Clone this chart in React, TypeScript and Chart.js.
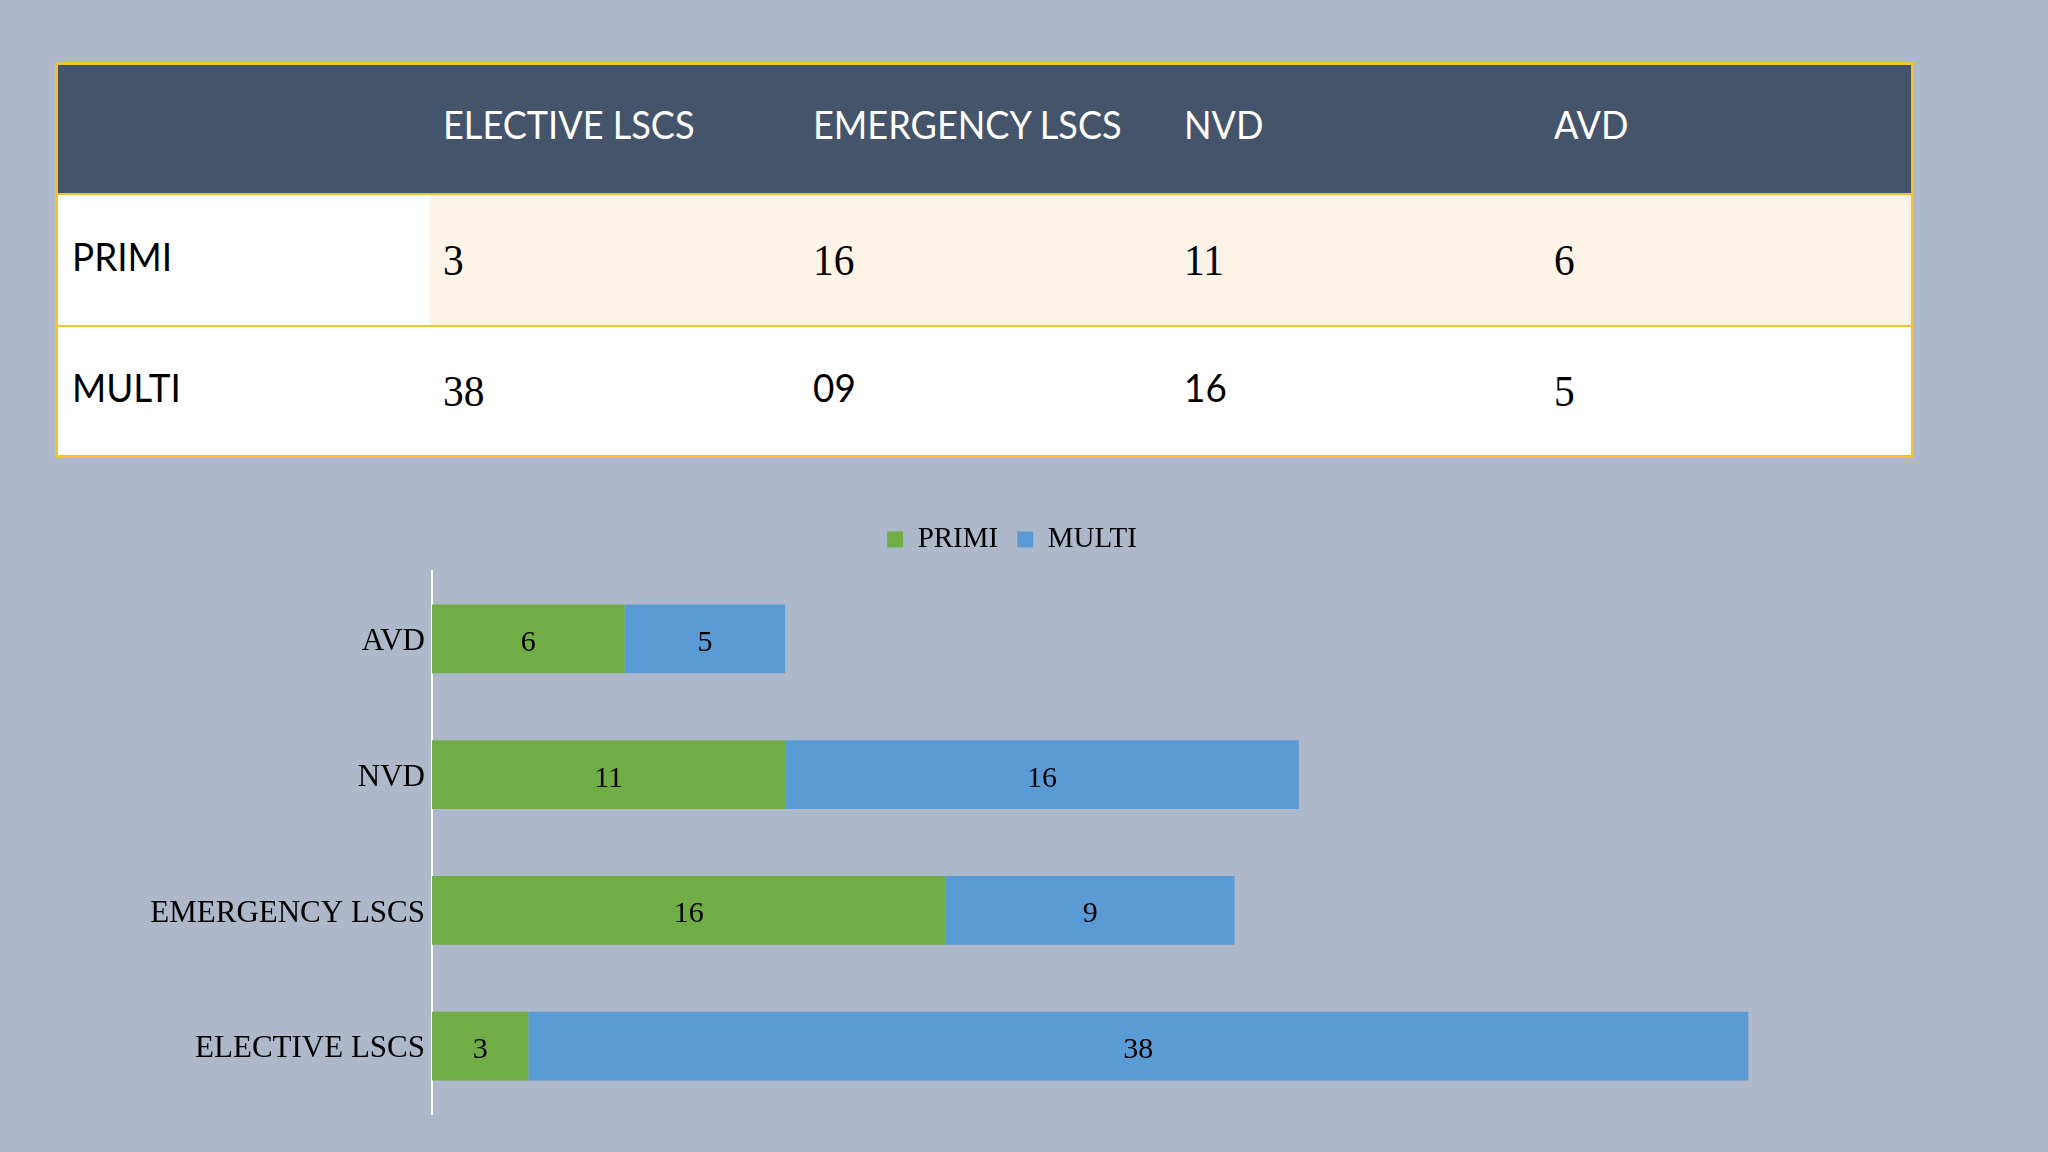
import { useEffect, useRef } from 'react';
import { Chart, registerables } from 'chart.js';

Chart.register(...registerables);

// Delivery mode categories, in table column order
const CATEGORIES = ['ELECTIVE LSCS', 'EMERGENCY LSCS', 'NVD', 'AVD'];
const ROW_NAMES = ['PRIMI', 'MULTI'];
const PRIMI = [3, 16, 11, 6];
const MULTI = [38, 9, 16, 5];
// MULTI row as printed in the table (9 is written "09")
const MULTI_CELLS = ['38', '09', '16', '5'];

const X_MAX = 48;

const SERIF = "'Liberation Serif', 'Times New Roman', serif";
const SANS = "Lato, 'Open Sans', sans-serif";
const GOLD = '#F2C12E';
const HEADER_BG = '#44546A';
const PEACH = '#FDF3E7';
const PAGE_BG = '#ADB9CA';
const GREEN = '#70AD47';
const BLUE = '#5B9BD5';

// Which table cells in each row use the sans face
const PRIMI_SANS = [false, false, false, false];
const MULTI_SANS = [false, true, true, false];

type CellProps = {
  text: string;
  bg?: string;
  color?: string;
  serif?: boolean;
  size?: number;
  squeeze?: number;
  lift?: number;
};

function Cell({ text, bg = 'transparent', color = '#000', serif = false, size = 38, squeeze = 0.97, lift = 0 }: CellProps) {
  return (
    <div
      style={{
        flex: '1 1 0',
        minWidth: 0,
        background: bg,
        display: 'flex',
        alignItems: 'center',
        paddingLeft: 14,
        boxSizing: 'border-box',
        lineHeight: 1,
      }}
    >
      <span
        style={{
          display: 'inline-block',
          fontFamily: serif ? SERIF : SANS,
          fontSize: size,
          color,
          whiteSpace: 'nowrap',
          transform: `translateY(${-lift}px) scaleX(${squeeze})`,
          transformOrigin: 'left center',
        }}
      >
        {text}
      </span>
    </div>
  );
}

function DataTable() {
  const sep = <div style={{ height: 2, background: GOLD, flex: '0 0 auto' }} />;
  return (
    <div
      style={{
        position: 'absolute',
        left: 55,
        top: 62,
        width: 1859,
        height: 396,
        border: `3px solid ${GOLD}`,
        boxSizing: 'border-box',
        display: 'flex',
        flexDirection: 'column',
        background: '#fff',
      }}
    >
      <div style={{ height: 128, display: 'flex', background: HEADER_BG, paddingBottom: 10, boxSizing: 'border-box' }}>
        <Cell text="" />
        {CATEGORIES.map((c) => (
          <Cell key={c} text={c} color="#fff" size={38} squeeze={0.95} />
        ))}
      </div>
      {sep}
      <div style={{ height: 130, display: 'flex', background: PEACH }}>
        <Cell text={ROW_NAMES[0]} bg="#fff" lift={4} />
        {PRIMI.map((v, i) => (
          <Cell
            key={i}
            text={String(v)}
            serif={!PRIMI_SANS[i]}
            size={PRIMI_SANS[i] ? 38 : 45}
            squeeze={PRIMI_SANS[i] ? 0.97 : 0.92}
            lift={PRIMI_SANS[i] ? 4 : 0}
          />
        ))}
      </div>
      {sep}
      <div style={{ height: 128, display: 'flex', background: '#fff' }}>
        <Cell text={ROW_NAMES[1]} lift={4} />
        {MULTI_CELLS.map((t, i) => (
          <Cell
            key={i}
            text={t}
            serif={!MULTI_SANS[i]}
            size={MULTI_SANS[i] ? 38 : 45}
            squeeze={MULTI_SANS[i] ? 0.97 : 0.92}
            lift={MULTI_SANS[i] ? 4 : 0}
          />
        ))}
      </div>
    </div>
  );
}

// Writes each segment's value in the middle of its bar
const segmentLabels = {
  id: 'segmentLabels',
  afterDatasetsDraw(chart: any) {
    const { ctx } = chart;
    ctx.save();
    ctx.font = `30px ${SERIF}`;
    ctx.fillStyle = '#000';
    ctx.textAlign = 'center';
    ctx.textBaseline = 'middle';
    chart.data.datasets.forEach((ds: any, di: number) => {
      const meta = chart.getDatasetMeta(di);
      meta.data.forEach((bar: any, i: number) => {
        const v = ds.data[i];
        ctx.fillText(String(v), (bar.x + bar.base) / 2, bar.y + 4);
      });
    });
    ctx.restore();
  },
};

// Leaves a little extra room between the legend and the bars
const legendGap = {
  id: 'legendGap',
  beforeLayout(chart: any) {
    const lg = chart.legend;
    if (lg && !lg.__gap) {
      const fit = lg.fit.bind(lg);
      lg.fit = function () {
        fit();
        this.height += 7;
      };
      lg.__gap = true;
    }
  },
};

function BarChart() {
  const ref = useRef<HTMLCanvasElement | null>(null);
  useEffect(() => {
    if (!ref.current) return;
    const chart = new Chart(ref.current, {
      type: 'bar',
      data: {
        labels: CATEGORIES,
        datasets: [
          { label: ROW_NAMES[0], data: PRIMI, backgroundColor: GREEN, borderWidth: 0 },
          { label: ROW_NAMES[1], data: MULTI, backgroundColor: BLUE, borderWidth: 0 },
        ],
      },
      options: {
        indexAxis: 'y',
        animation: false,
        responsive: false,
        devicePixelRatio: 1,
        layout: { padding: { left: 51, right: 75, top: 4, bottom: 38 } },
        datasets: { bar: { categoryPercentage: 1, barPercentage: 0.508 } },
        scales: {
          x: { stacked: true, min: 0, max: X_MAX, display: false },
          y: {
            stacked: true,
            reverse: true,
            grid: { display: false, drawTicks: false },
            border: { display: true, color: '#ffffff', width: 2 },
            ticks: { color: '#000', font: { family: SERIF, size: 31 }, padding: 7, labelOffset: 3 },
            afterFit(scale: any) {
              scale.width = 381;
            },
          },
        },
        plugins: {
          legend: {
            position: 'top',
            labels: {
              boxWidth: 16,
              boxHeight: 16,
              padding: 19,
              color: '#000',
              font: { family: SERIF, size: 29 },
            },
          },
          tooltip: { enabled: false },
        },
      },
      plugins: [segmentLabels, legendGap],
    });
    return () => chart.destroy();
  }, []);
  return (
    <div style={{ position: 'absolute', left: 0, top: 502, width: 2048, height: 650 }}>
      <canvas ref={ref} width={2048} height={650} style={{ display: 'block' }} />
    </div>
  );
}

export default function App() {
  return (
    <div
      style={{
        position: 'fixed',
        left: 0,
        top: 0,
        width: 2048,
        height: 1152,
        background: PAGE_BG,
        overflow: 'hidden',
      }}
    >
      <DataTable />
      <BarChart />
    </div>
  );
}
